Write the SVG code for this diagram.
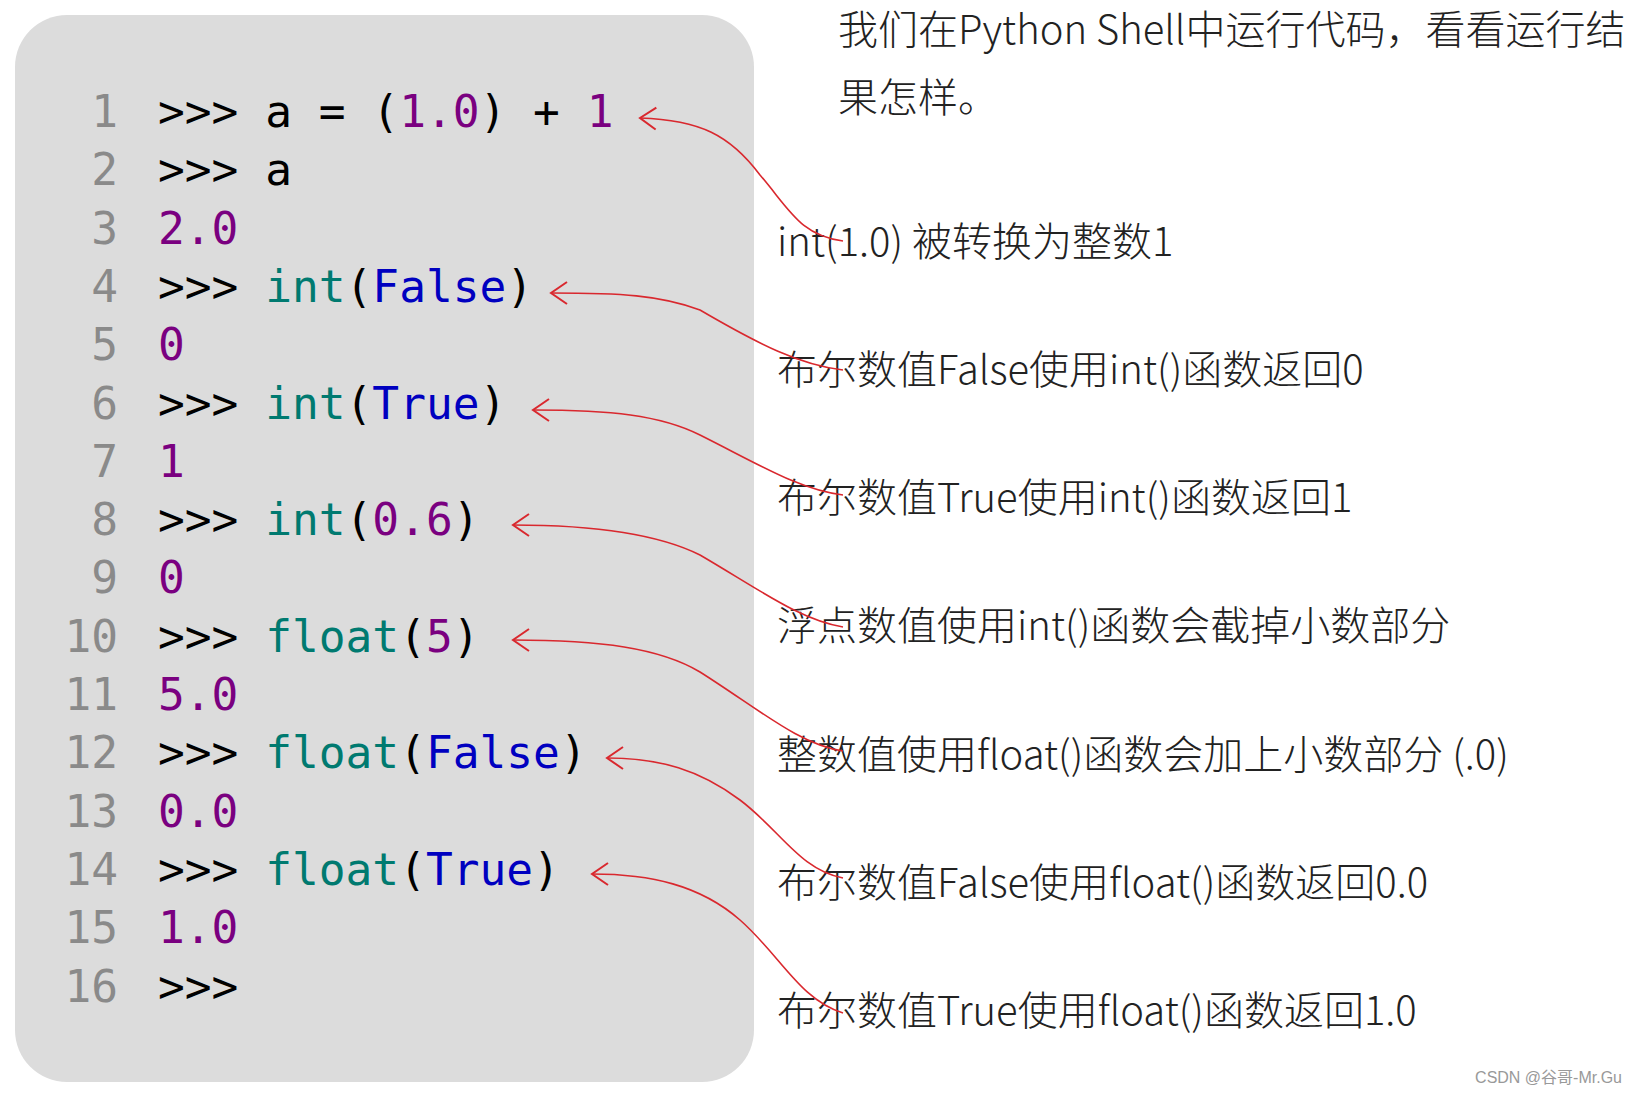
<svg xmlns="http://www.w3.org/2000/svg" width="1636" height="1094" viewBox="0 0 1636 1094">
<style>
.code{font-family:"DejaVu Sans Mono","Liberation Mono",monospace;font-size:44.5px}
.ln{fill:#8a8a8a;text-anchor:end}
.p{fill:#000}.f{fill:#007a70}.k{fill:#0000c0}.n{fill:#7a0080}
.lbl{font-family:"Noto Sans CJK SC","Noto Sans",sans-serif;font-weight:300;font-size:40px;fill:#222}
.c{fill:none;stroke:#d9282e;stroke-width:1.6}
</style>
<defs><marker id="ah" markerWidth="24" markerHeight="30" refX="18" refY="15" orient="auto" markerUnits="userSpaceOnUse"><path d="M2,4 L18,15 L2,26" fill="none" stroke="#d9282e" stroke-width="2"/></marker></defs>
<rect width="1636" height="1094" fill="#fff"/>
<g id="shell">
<rect x="15" y="15" width="739" height="1067" rx="52" fill="#dcdcdc"/>
<g class="code">
<text y="127"><tspan x="118" class="ln">1</tspan><tspan x="158" class="p">&gt;&gt;&gt; a = (</tspan><tspan class="n">1.0</tspan><tspan class="p">) + </tspan><tspan class="n">1</tspan></text>
<text y="185"><tspan x="118" class="ln">2</tspan><tspan x="158" class="p">&gt;&gt;&gt; a</tspan></text>
<text y="244"><tspan x="118" class="ln">3</tspan><tspan x="158" class="n">2.0</tspan></text>
<text y="302"><tspan x="118" class="ln">4</tspan><tspan x="158" class="p">&gt;&gt;&gt; </tspan><tspan class="f">int</tspan><tspan class="p">(</tspan><tspan class="k">False</tspan><tspan class="p">)</tspan></text>
<text y="360"><tspan x="118" class="ln">5</tspan><tspan x="158" class="n">0</tspan></text>
<text y="419"><tspan x="118" class="ln">6</tspan><tspan x="158" class="p">&gt;&gt;&gt; </tspan><tspan class="f">int</tspan><tspan class="p">(</tspan><tspan class="k">True</tspan><tspan class="p">)</tspan></text>
<text y="477"><tspan x="118" class="ln">7</tspan><tspan x="158" class="n">1</tspan></text>
<text y="535"><tspan x="118" class="ln">8</tspan><tspan x="158" class="p">&gt;&gt;&gt; </tspan><tspan class="f">int</tspan><tspan class="p">(</tspan><tspan class="n">0.6</tspan><tspan class="p">)</tspan></text>
<text y="593"><tspan x="118" class="ln">9</tspan><tspan x="158" class="n">0</tspan></text>
<text y="652"><tspan x="118" class="ln">10</tspan><tspan x="158" class="p">&gt;&gt;&gt; </tspan><tspan class="f">float</tspan><tspan class="p">(</tspan><tspan class="n">5</tspan><tspan class="p">)</tspan></text>
<text y="710"><tspan x="118" class="ln">11</tspan><tspan x="158" class="n">5.0</tspan></text>
<text y="768"><tspan x="118" class="ln">12</tspan><tspan x="158" class="p">&gt;&gt;&gt; </tspan><tspan class="f">float</tspan><tspan class="p">(</tspan><tspan class="k">False</tspan><tspan class="p">)</tspan></text>
<text y="827"><tspan x="118" class="ln">13</tspan><tspan x="158" class="n">0.0</tspan></text>
<text y="885"><tspan x="118" class="ln">14</tspan><tspan x="158" class="p">&gt;&gt;&gt; </tspan><tspan class="f">float</tspan><tspan class="p">(</tspan><tspan class="k">True</tspan><tspan class="p">)</tspan></text>
<text y="943"><tspan x="118" class="ln">15</tspan><tspan x="158" class="n">1.0</tspan></text>
<text y="1002"><tspan x="118" class="ln">16</tspan><tspan x="158" class="p">&gt;&gt;&gt;</tspan></text>
</g>
</g>
<g id="intro" class="lbl"><text x="838" y="44">我们在Python Shell中运行代码，看看运行结</text><text x="838" y="112">果怎样。</text></g>
<g id="l1" class="lbl"><text x="777" y="256">int(1.0) 被转换为整数1</text></g>
<g id="l2" class="lbl"><text x="777" y="384">布尔数值False使用int()函数返回0</text></g>
<g id="l3" class="lbl"><text x="777" y="512">布尔数值True使用int()函数返回1</text></g>
<g id="l4" class="lbl"><text x="777" y="640">浮点数值使用int()函数会截掉小数部分</text></g>
<g id="l5" class="lbl"><text x="777" y="769">整数值使用float()函数会加上小数部分 (.0)</text></g>
<g id="l6" class="lbl"><text x="777" y="897">布尔数值False使用float()函数返回0.0</text></g>
<g id="l7" class="lbl"><text x="777" y="1025">布尔数值True使用float()函数返回1.0</text></g>
<g id="wm"><text x="1622" y="1083" text-anchor="end" font-family="Liberation Sans,Noto Sans CJK SC,sans-serif" font-size="16" fill="#999">CSDN @谷哥-Mr.Gu</text></g>
<g id="connectors">
<path class="c" marker-end="url(#ah)" d="M843,241 C800,235 790,210 760,175 C730,135 700,120 640,118"/>
<path class="c" marker-end="url(#ah)" d="M843,370 C800,365 760,345 700,310 C660,295 620,293 551,293"/>
<path class="c" marker-end="url(#ah)" d="M843,495 C800,490 760,465 700,435 C660,415 610,410 533,410"/>
<path class="c" marker-end="url(#ah)" d="M843,627 C800,620 760,590 700,555 C660,535 600,525 513,525"/>
<path class="c" marker-end="url(#ah)" d="M843,751 C800,745 760,710 700,672 C660,648 600,640 513,640"/>
<path class="c" marker-end="url(#ah)" d="M843,878 C800,870 780,830 740,800 C700,770 660,758 607,758"/>
<path class="c" marker-end="url(#ah)" d="M843,1013 C800,1000 780,955 740,920 C700,885 650,874 592,874"/>
</g>
</svg>
